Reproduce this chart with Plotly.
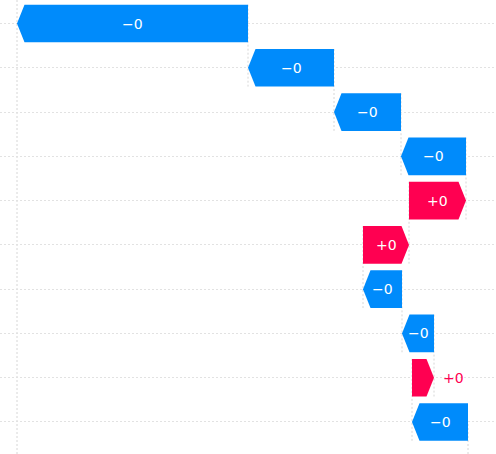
import re
import plotly.graph_objects as go

# shap values, top row first (last row = remaining features)
shap_values = [-0.00231, -0.00086, -0.00067, -0.00065, 0.00057,
               0.00046, -0.00039, -0.00032, 0.00022, -0.00056]
base_value = 0.01473

BLUE = '#008bfb'
RED = '#ff0051'
GRID = '#e2e2e2'
CONN = '#d6d6d6'
DOTS = '2px,2px'

bar_h = 0.85
head_len = 0.000075
min_inside = 0.00026
FONT = 'DejaVu Sans'


def fmt(v):
    s = '%+0.02f' % v
    s = re.sub(r'\.?0+$', '', s)
    return s.replace('-', '\u2212')


n = len(shap_values)
rows = list(range(n - 1, -1, -1))
fx = base_value + sum(shap_values)

# starting position of each bar, walking up from the base value
starts = [0.0] * n
loc = base_value
for i in range(n - 1, -1, -1):
    starts[i] = loc
    loc += shap_values[i]

fig = go.Figure()
shapes = []
annotations = []

for i, v in enumerate(shap_values):
    y = rows[i]
    s = starts[i]
    e = s + v
    d = 1 if v >= 0 else -1
    hl = min(abs(v), head_len)
    body = e - d * hl
    xs = [s, body, e, body, s, s]
    ys = [y - bar_h / 2, y - bar_h / 2, y, y + bar_h / 2, y + bar_h / 2, y - bar_h / 2]
    color = RED if v >= 0 else BLUE
    fig.add_trace(go.Scatter(x=xs, y=ys, fill='toself', fillcolor=color,
                             mode='lines', line=dict(width=0, color=color),
                             hoverinfo='skip', showlegend=False))

    if abs(v) > min_inside:
        annotations.append(dict(x=(s + e) / 2, y=y, text=fmt(v), showarrow=False,
                                font=dict(color='white', size=14, family=FONT)))
    else:
        annotations.append(dict(x=e + d * 0.00007, y=y, text=fmt(v), showarrow=False,
                                xanchor='left' if d > 0 else 'right',
                                font=dict(color=color, size=14, family=FONT)))

    # connector from this bar down to the one below
    if i < n - 1:
        shapes.append(dict(type='line', x0=s, x1=s, y0=y + bar_h / 2, y1=rows[i + 1] - bar_h / 2,
                           line=dict(color=CONN, width=1, dash=DOTS), layer='below'))

y_lo = -0.723
y_hi = 9.531

# f(x) and E[f(x)] lines
shapes.append(dict(type='line', x0=fx, x1=fx, y0=y_lo, y1=y_hi,
                   line=dict(color=CONN, width=1, dash=DOTS), layer='below'))
shapes.append(dict(type='line', x0=base_value, x1=base_value, y0=y_lo, y1=rows[-1],
                   line=dict(color=CONN, width=1, dash=DOTS), layer='below'))

fig.update_layout(
    width=496, height=454,
    margin=dict(l=0, r=0, t=0, b=0),
    plot_bgcolor='white', paper_bgcolor='white',
    shapes=shapes, annotations=annotations,
    xaxis=dict(range=[fx - 0.00017, base_value + 0.00028], visible=False),
    yaxis=dict(range=[y_lo, y_hi], tickvals=rows, showticklabels=False,
               showgrid=True, gridcolor=GRID, griddash=DOTS, gridwidth=1,
               zeroline=False, showline=False, ticks=''),
)

fig.write_html("out.html", config={'displayModeBar': False},
               post_script="document.body.style.margin = '0';")
